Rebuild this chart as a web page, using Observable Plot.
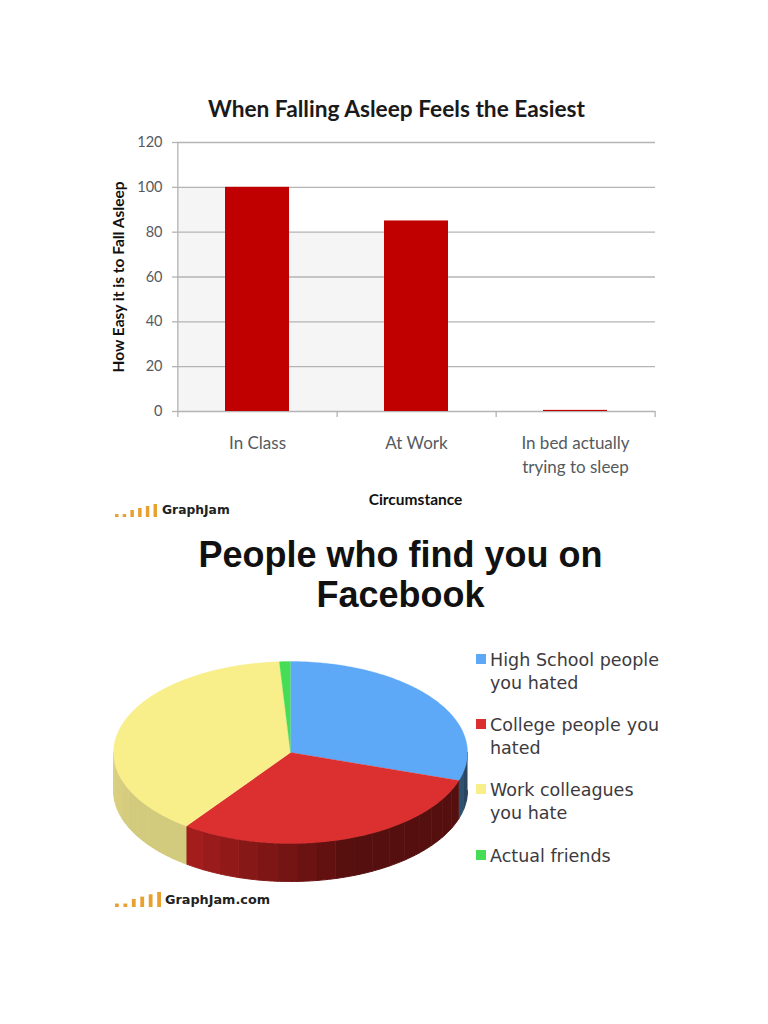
<!DOCTYPE html>
<html><head><meta charset="utf-8">
<script src="https://cdn.jsdelivr.net/npm/d3@7"></script>
<script src="https://cdn.jsdelivr.net/npm/@observablehq/plot@0.6"></script>
<style>
html,body{margin:0;background:#fff}
#page{position:relative;width:768px;height:1024px;overflow:hidden}
#page>*{position:absolute}
.t1{left:0;width:768px;margin:0;text-align:center;padding-left:25px;box-sizing:border-box;top:95px;font:700 22.7px/28px Lato,sans-serif;color:#1a1a1a;white-space:nowrap}
.t2{left:0;width:801px;margin:0;text-align:center;top:535px;font:700 36px/39.5px "Liberation Sans",sans-serif;color:#111}
.lg{left:490px;font:17.5px/23px "DejaVu Sans",sans-serif;color:#3d3a40;white-space:pre;width:169px}
.sw{left:476px;width:10px;height:10px}
.brand{font-family:"DejaVu Sans",sans-serif;font-weight:700;color:#222;white-space:nowrap}
</style></head><body><div id="page"></div>
<script>
// ---- bar chart data
const barCategories = ["In Class", "At Work", "In bed actually\ntrying to sleep"];
const barValues = [100, 85, 0.5];
const yTicks = [0, 20, 40, 60, 80, 100, 120];
// ---- pie chart data
const pieLabels = ["High School people\nyou hated", "College people you\nhated", "Work colleagues\nyou hate", "Actual friends"];
const pieValues = [30, 30, 39, 1];
const pieTop = ["#5ea8f8", "#dc2f2f", "#f8ee8a", "#44dd55"];
const pieSideLeft = ["#2f5674", "#a81e1e", "#dcd283", "#2a8a38"];
const pieSideRight = ["#2a4560", "#550f0e", "#d2ca7c", "#2a8a38"];
// ---- logo
const logoBars = [3, 3, 7, 9, 11, 13];

const page = document.getElementById("page");
const add = (el, top, left) => { el.style.top = top + "px"; el.style.left = (left || 0) + "px"; page.appendChild(el); return el; };

// Bar chart
const GRID = "#b4b4b4", INK = "#555a60", step = 478 / 3;
const barRows = barCategories.map((c, i) => ({c, v: barValues[i]}));
const barPlot = Plot.plot({
  width: 768, height: 530,
  marginLeft: 177, marginRight: 113, marginTop: 142, marginBottom: 119,
  style: {background: "transparent", fontFamily: "Lato, sans-serif", overflow: "visible"},
  x: {domain: barCategories, paddingInner: 0.6, paddingOuter: 0.3},
  y: {domain: [0, 120]},
  marks: [
    Plot.barY([barCategories[0]], {x: d => d, y1: 0, y2: 80, fill: "#f5f5f5", insetLeft: -48, insetRight: -96}),
    Plot.barY([barCategories[0]], {x: d => d, y1: 80, y2: 100, fill: "#f5f5f5", insetLeft: -48, insetRight: 0}),
    Plot.ruleY(yTicks, {stroke: GRID, strokeWidth: 1.3, strokeOpacity: 1}),
    Plot.barY(barRows, {x: "c", y: "v", fill: "#c00000"}),
    Plot.ruleX([barCategories[0]], {x: d => d, dx: -step / 2, y1: -2.7, y2: 120, stroke: GRID, strokeWidth: 1.3}),
    Plot.ruleX(barCategories, {x: d => d, dx: step / 2, y1: -2.7, y2: 0, stroke: GRID, strokeWidth: 1.3}),
    Plot.axisY({ticks: yTicks, tickSize: 5, tickPadding: 10, label: null, fontSize: 14.5, color: INK, stroke: GRID, strokeWidth: 1.3, tickFormat: d => d, strokeOpacity: 1}),
    Plot.axisX({tickSize: 0, tickPadding: 21, label: null, fontSize: 17, color: INK, lineHeight: 1.4}),
    Plot.text(["How Easy it is to Fall Asleep"], {text: d => d, frameAnchor: "left", textAnchor: "middle", dx: -58, rotate: -90, fontWeight: 700, fontSize: 15.5, fill: "#111"}),
    Plot.text(["Circumstance"], {text: d => d, frameAnchor: "bottom", dy: 93, dx: -1, fontWeight: 700, fontSize: 15.5, fill: "#111"})
  ]
});
add(barPlot, 0);

const t1 = document.createElement("h2"); t1.className = "t1"; t1.textContent = "When Falling Asleep Feels the Easiest"; page.appendChild(t1);
const t2 = document.createElement("h2"); t2.className = "t2"; t2.innerHTML = "People who find you on<br>Facebook"; page.appendChild(t2);

// Pie built from the values: unit circle mapped through x,y scales into an ellipse
const arcs = d3.pie().sort(null)(pieValues);
const pt = (a, drop = 0) => ({x: Math.sin(a), y: Math.cos(a) - drop});
const DEPTH = 38 / 91;
const sideSlabs = [], topSlices = [];
arcs.forEach((s, i) => {
  const n = Math.max(2, Math.ceil((s.endAngle - s.startAngle) / 0.01));
  const pts = [{x: 0, y: 0}];
  for (let k = 0; k <= n; k++) pts.push(pt(s.startAngle + (s.endAngle - s.startAngle) * k / n));
  pts.forEach(p => topSlices.push({...p, key: i, fill: pieTop[i]}));
  // stepped side wall for the front half
  const a0 = Math.max(s.startAngle, Math.PI / 2), a1 = Math.min(s.endAngle, 3 * Math.PI / 2);
  if (a1 > a0) {
    const segs = Math.max(1, Math.round((a1 - a0) / 0.11));
    for (let j = 0; j < segs; j++) {
      const b0 = a0 + (a1 - a0) * j / segs, b1 = a0 + (a1 - a0) * (j + 1) / segs;
      const p = (j + .5) / segs; // 0 at the right end of the wall, 1 at its left end
      const toRight = p < 0.48 ? 1 : 1 - (p - 0.48) / 0.52;
      const fill = d3.interpolateRgb(pieSideLeft[i], pieSideRight[i])(toRight);
      const key = i + "-" + j, row = [];
      for (let k = 0; k <= 8; k++) row.push(pt(b0 + (b1 - b0) * k / 8));
      for (let k = 8; k >= 0; k--) row.push(pt(b0 + (b1 - b0) * k / 8, DEPTH));
      row.forEach(q => sideSlabs.push({...q, key, fill}));
    }
  }
});
const piePlot = Plot.plot({
  width: 768, height: 260, margin: 0,
  style: {background: "transparent", overflow: "visible"},
  x: {domain: [-1, 1], range: [113, 467], axis: null},
  y: {domain: [1, -1], range: [21, 203], axis: null},
  color: {type: "identity"},
  marks: [
    Plot.line(sideSlabs, {x: "x", y: "y", z: "key", fill: "fill", stroke: "fill", strokeWidth: 1}),
    Plot.line(topSlices, {x: "x", y: "y", z: "key", fill: "fill", stroke: "fill", strokeWidth: 0.3})
  ]
});
add(piePlot, 640);

// Legend
const legendTops = [649, 714, 779, 845];
pieLabels.forEach((l, i) => {
  const d = document.createElement("div"); d.className = "lg"; d.style.top = legendTops[i] + "px";
  const lines = l.split("\n");
  lines.forEach((ln, j) => {
    const s = document.createElement("div"); s.textContent = ln;
    if (i < 2 && j === 0) { s.style.textAlign = "justify"; s.style.textAlignLast = "justify"; s.style.whiteSpace = "normal"; }
    d.appendChild(s);
  });
  page.appendChild(d);
  const sw = document.createElement("div"); sw.className = "sw"; sw.style.background = pieTop[i]; sw.style.top = (legendTops[i] + 5) + "px";
  page.appendChild(sw);
});

// Logos
function logo(top, left, w, h, label, labelLeft, labelTop, size) {
  const p = Plot.plot({
    width: w, height: h, margin: 0, axis: null,
    style: {background: "transparent"},
    x: {domain: d3.range(logoBars.length), paddingInner: 0.55, paddingOuter: 0, round: false},
    y: {domain: [0, d3.max(logoBars)]},
    marks: [Plot.barY(logoBars, {x: (d, i) => i, y: d => d, fill: "#e8a030"})]
  });
  add(p, top, left);
  const b = document.createElement("div"); b.className = "brand"; b.textContent = label;
  b.style.fontSize = size + "px"; b.style.lineHeight = "16px";
  add(b, labelTop, labelLeft);
}
logo(504, 115, 42, 13, "GraphJam", 162, 502, 12.3);
logo(892, 115, 46, 15, "GraphJam.com", 165, 892, 12.8);
</script></body></html>
